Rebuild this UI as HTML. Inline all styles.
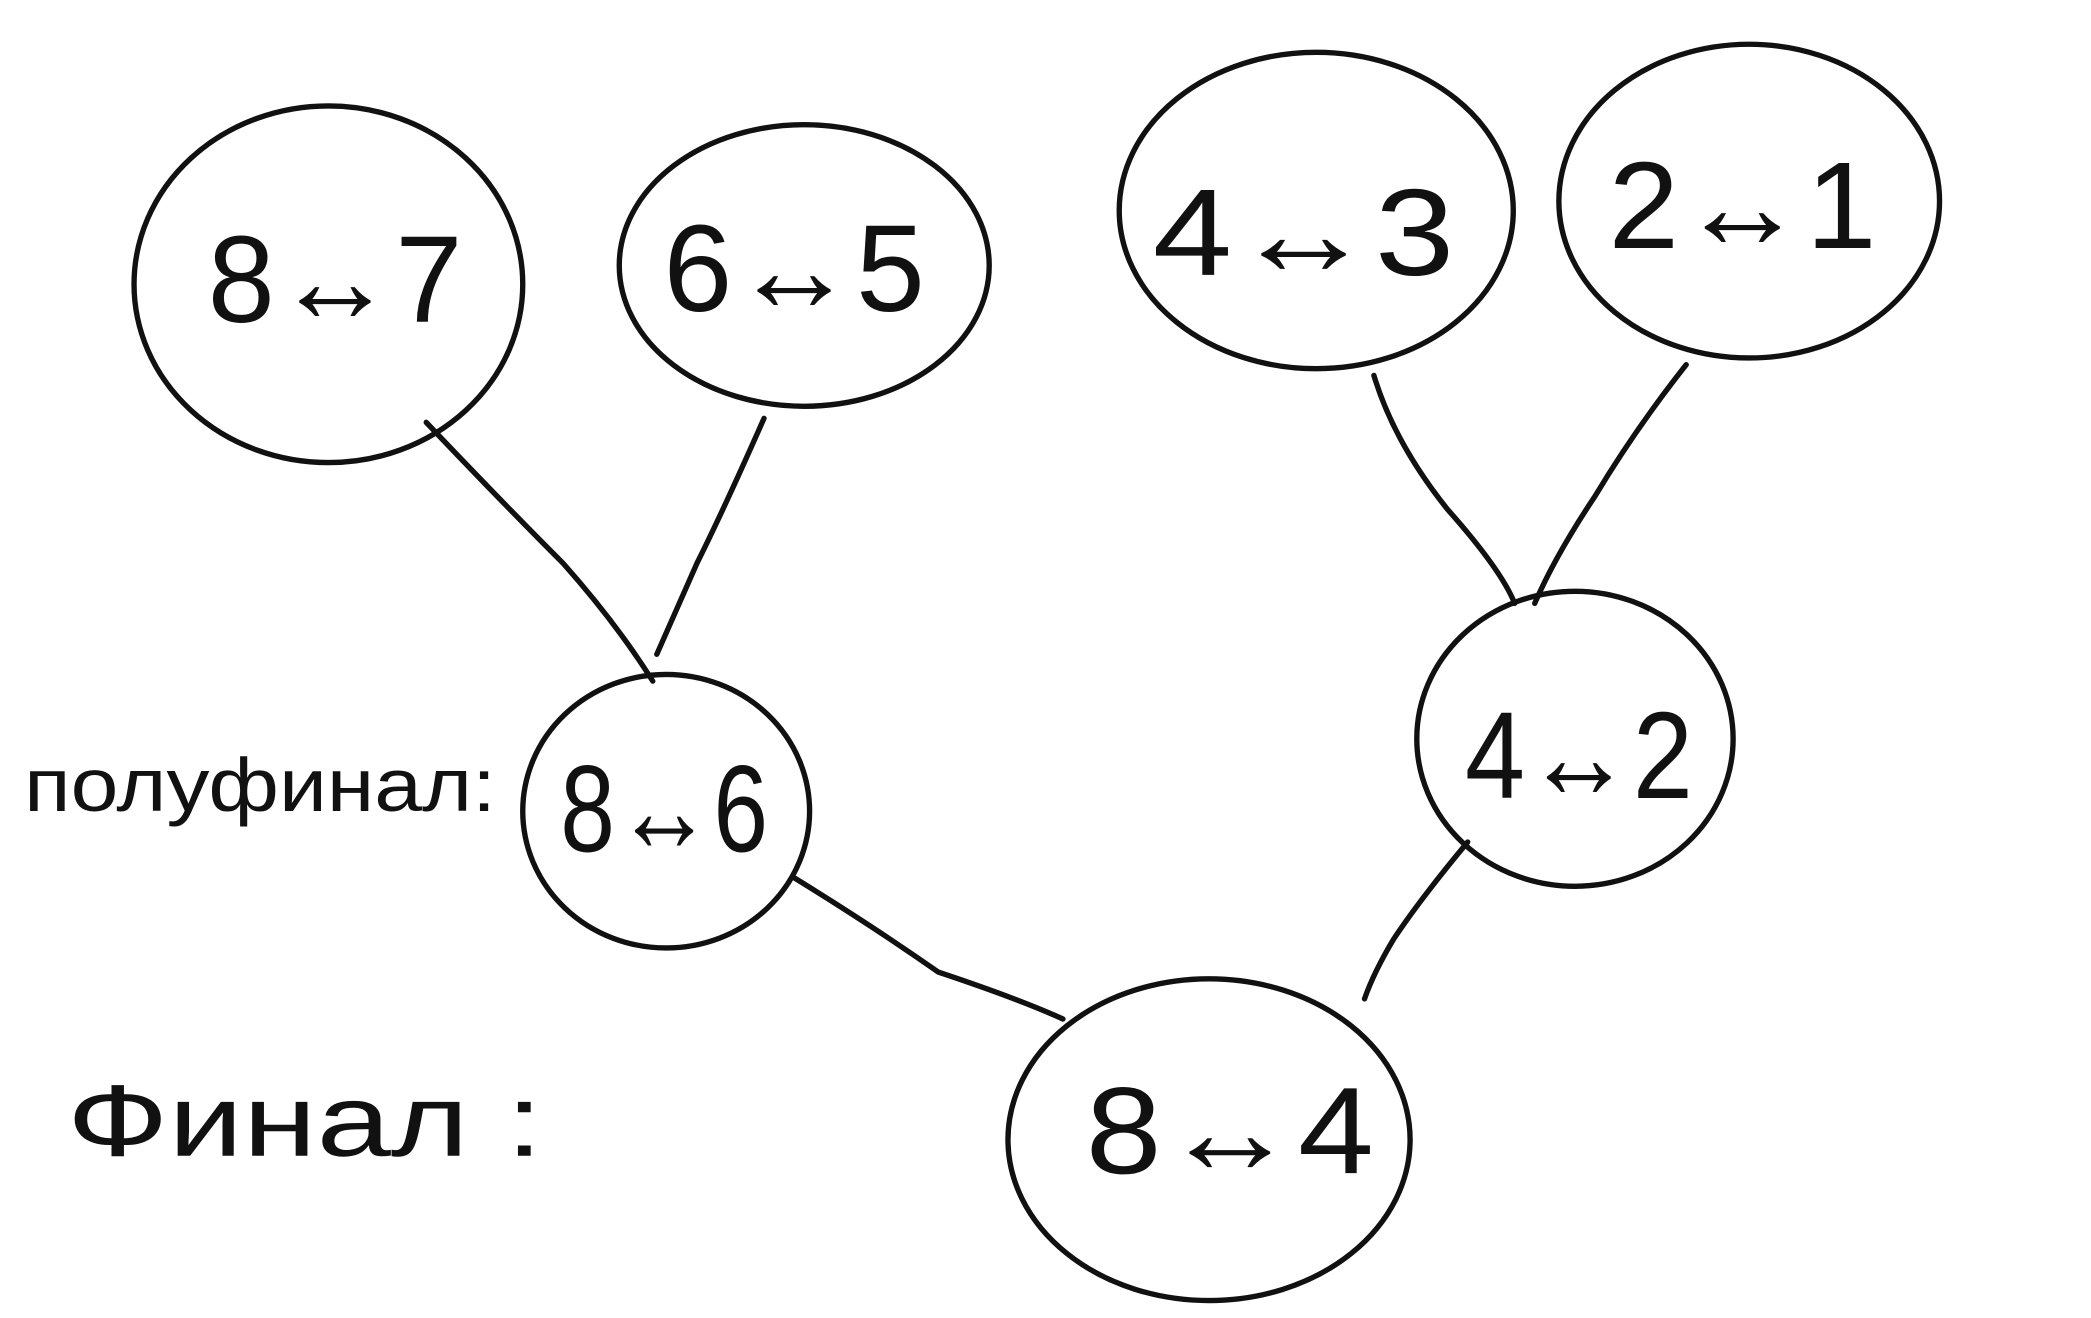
<!DOCTYPE html>
<html><head><meta charset="utf-8"><style>
html,body{margin:0;padding:0;background:#fff;}
svg{display:block;}
text{font-family:"Liberation Sans",sans-serif;fill:#111;}
</style></head><body>
<svg width="2091" height="1318" viewBox="0 0 1560 983" preserveAspectRatio="none">
<g fill="none" stroke="#111" stroke-width="4" stroke-linecap="round">
<ellipse cx="245" cy="212" rx="145" ry="133"/>
<ellipse cx="600" cy="198" rx="138" ry="105"/>
<ellipse cx="982" cy="157" rx="147" ry="118"/>
<ellipse cx="1305" cy="150" rx="142" ry="117"/>
<ellipse cx="497" cy="605" rx="107" ry="102"/>
<ellipse cx="1175" cy="551" rx="118" ry="110"/>
<ellipse cx="902" cy="850" rx="150" ry="120"/>
<path d="M318 315 Q375 375 420 420 Q460 465 487 508"/>
<path d="M570 312 Q540 380 520 420 Q500 465 490 488"/>
<path d="M1025 280 Q1040 330 1080 380 Q1120 425 1130 450"/>
<path d="M1258 272 Q1220 320 1190 370 Q1160 415 1145 450"/>
<path d="M593 655 Q650 690 700 725 Q760 745 793 760"/>
<path d="M1095 628 Q1060 670 1040 700 Q1025 725 1018 745"/>
</g>
<g font-size="92">
<text x="155" y="240" textLength="190" lengthAdjust="spacingAndGlyphs">8↔7</text>
<text x="495" y="232" textLength="195" lengthAdjust="spacingAndGlyphs">6↔5</text>
<text x="860" y="205" textLength="225" lengthAdjust="spacingAndGlyphs">4↔3</text>
<text x="1200" y="185" textLength="200" lengthAdjust="spacingAndGlyphs">2↔1</text>
<text x="418" y="635" textLength="155" lengthAdjust="spacingAndGlyphs">8↔6</text>
<text x="1093" y="595" textLength="170" lengthAdjust="spacingAndGlyphs">4↔2</text>
<text x="810" y="875" textLength="215" lengthAdjust="spacingAndGlyphs">8↔4</text>
</g>
<text x="18" y="605" font-size="56" textLength="352" lengthAdjust="spacingAndGlyphs">полуфинал:</text>
<text x="50" y="862" font-size="76" textLength="355" lengthAdjust="spacingAndGlyphs">Финал :</text>
</svg>
</body></html>
